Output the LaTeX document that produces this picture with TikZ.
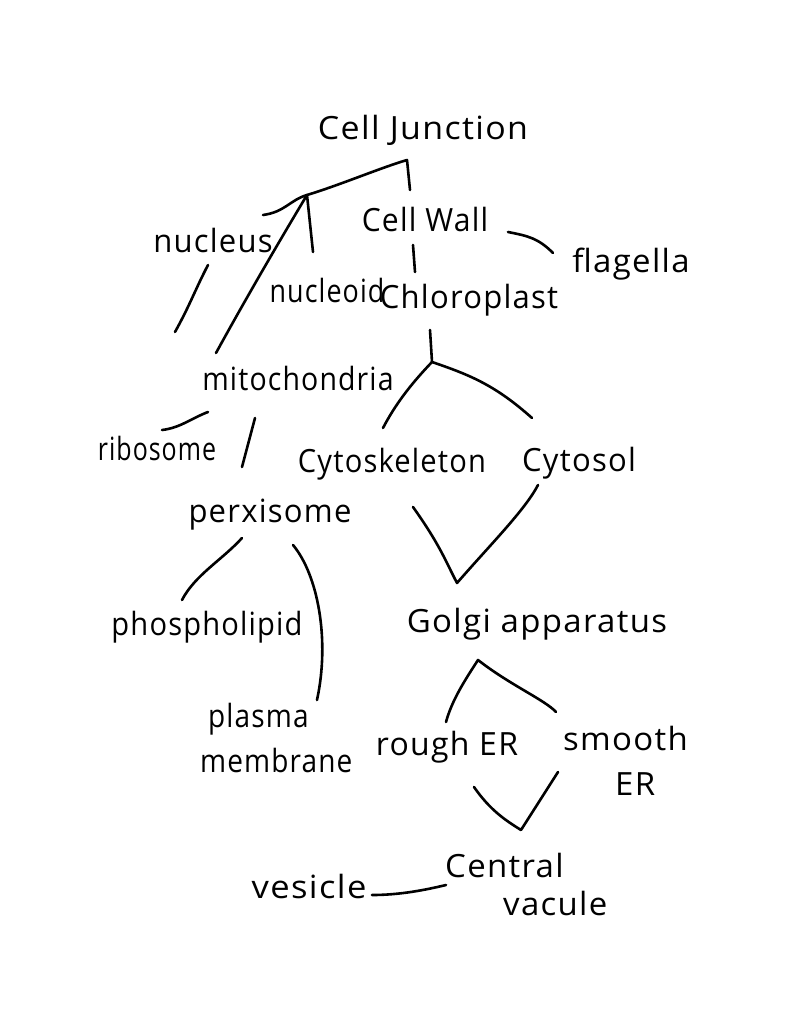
\documentclass[tikz,border=0pt]{standalone}
\usepackage{fontspec}
\setmainfont{Open Sans}[LetterSpace=4]
\newcommand{\hsx}[2]{\scalebox{#1}[1]{#2}}
\begin{document}
\begin{tikzpicture}[x=1pt,y=-1pt,
  lbl/.style={font=\fontsize{32}{45}\selectfont, inner sep=0pt, anchor=base, align=center},
  ln/.style={line width=2.6pt, line cap=round, line join=round}]
\useasboundingbox[fill=white] (0,0) rectangle (791,1024);
% labels
\node[lbl] (cj) at (423,140) {\hsx{1.06}{Cell Junction}};
\node[lbl] (nucleus) at (213,252) {\hsx{0.97}{nucleus}};
\node[lbl] (wall) at (425,232) {\hsx{0.94}{Cell Wall}};
\node[lbl] (flag) at (631,272) {\hsx{1.03}{flagella}};
\node[lbl] (nucleoid) at (327,302) {\hsx{0.84}{nucleoid}};
\node[lbl] (chloro) at (469,308) {\hsx{0.97}{Chloroplast}};
\node[lbl] (mito) at (298,390) {\hsx{0.89}{mitochondria}};
\node[lbl] (ribo) at (157,460) {\hsx{0.78}{ribosome}};
\node[lbl] (cytosk) at (392,472) {\hsx{0.91}{Cytoskeleton}};
\node[lbl] (cytosol) at (579,471) {\hsx{0.97}{Cytosol}};
\node[lbl] (perx) at (270,522) {\hsx{0.97}{perxisome}};
\node[lbl] (phos) at (207,635) {\hsx{0.91}{phospholipid}};
\node[lbl] (golgi) at (537,632) {\hsx{1.03}{Golgi apparatus}};
\node[lbl, align=left, anchor=base west] (plasma) at (200,772) {\hspace{8pt}\hsx{0.875}{plasma}\\\hsx{0.875}{membrane}};
\node[lbl] (rough) at (447,755) {\hsx{1.0}{rough ER}};
\node[lbl, align=left, anchor=base west] (smooth) at (563,795) {\hsx{1.03}{smooth}\\\hspace{52pt}\hsx{1.03}{ER}};
\node[lbl, font=\fontsize{32}{38}\selectfont, align=left, anchor=base west] (central) at (445,915) {\hsx{1.03}{Central}\\\hspace{58pt}\hsx{1.03}{vacule}};
\node[lbl] (vesicle) at (309,898) {\hsx{1.08}{vesicle}};
% connector end points
\coordinate (a1) at (263,215);
\coordinate (a2) at (307,195);
\coordinate (a3) at (407,160);
\coordinate (a4) at (410,190);
\coordinate (b1) at (216,353);
\coordinate (c1) at (313,252);
\coordinate (d1) at (208,265);
\coordinate (d2) at (175,332);
\coordinate (e1) at (413,245);
\coordinate (e2) at (415,272);
\coordinate (f1) at (508,232);
\coordinate (f2) at (553,253);
\coordinate (g1) at (430,330);
\coordinate (g2) at (432,362);
\coordinate (g3) at (383,428);
\coordinate (g4) at (532,418);
\coordinate (h1) at (162,430);
\coordinate (h2) at (208,412);
\coordinate (i1) at (255,418);
\coordinate (i2) at (242,467);
\coordinate (j1) at (242,538);
\coordinate (j2) at (182,600);
\coordinate (k1) at (293,545);
\coordinate (k2) at (317,700);
\coordinate (m1) at (413,507);
\coordinate (m2) at (457,583);
\coordinate (m3) at (538,485);
\coordinate (n1) at (446,722);
\coordinate (n2) at (478,660);
\coordinate (n3) at (556,712);
\coordinate (o1) at (474,787);
\coordinate (o2) at (521,830);
\coordinate (o3) at (558,772);
\coordinate (p1) at (372,895);
\coordinate (p2) at (446,885);
% connectors
\draw[ln] (a1) .. controls (285,212) and (290,200) .. (a2) .. controls (340,185) and (380,168) .. (a3) -- (a4);
\draw[ln] (a2) .. controls (280,240) and (245,300) .. (b1);
\draw[ln] (a2) -- (c1);
\draw[ln] (d1) .. controls (195,290) and (190,305) .. (d2);
\draw[ln] (e1) -- (e2);
\draw[ln] (f1) .. controls (528,236) and (538,238) .. (f2);
\draw[ln] (g1) -- (g2) .. controls (410,385) and (395,405) .. (g3);
\draw[ln] (g2) .. controls (470,375) and (495,385) .. (g4);
\draw[ln] (h1) .. controls (180,428) and (192,418) .. (h2);
\draw[ln] (i1) -- (i2);
\draw[ln] (j1) .. controls (222,560) and (195,575) .. (j2);
\draw[ln] (k1) .. controls (318,575) and (330,640) .. (k2);
\draw[ln] (m1) .. controls (440,545) and (445,560) .. (m2) .. controls (490,545) and (525,510) .. (m3);
\draw[ln] (n1) .. controls (452,700) and (465,680) .. (n2) .. controls (510,685) and (545,700) .. (n3);
\draw[ln] (o1) .. controls (490,810) and (505,820) .. (o2) -- (o3);
\draw[ln] (p1) .. controls (400,895) and (425,890) .. (p2);
\end{tikzpicture}
\end{document}
